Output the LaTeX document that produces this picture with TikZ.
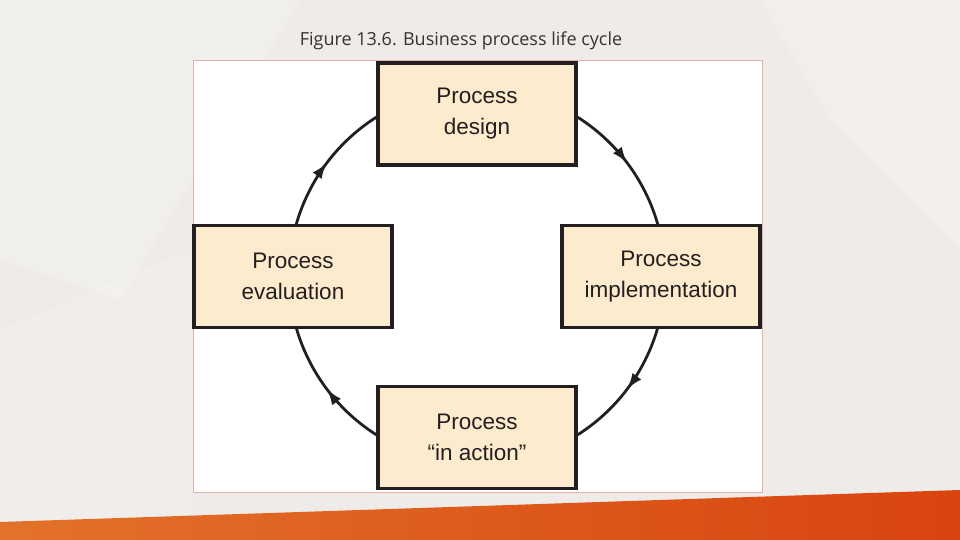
\documentclass[tikz,border=0pt]{standalone}
\usepackage{fontspec}
\setmainfont{Liberation Sans}
\newfontfamily\titlefont{Open Sans}
\usetikzlibrary{decorations.markings,arrows.meta,shadows}
\definecolor{bg}{HTML}{EEEBE8}
\definecolor{boxfill}{HTML}{FDEBCD}
\definecolor{boxline}{HTML}{231F20}
\definecolor{orA}{HTML}{E2722A}
\definecolor{orB}{HTML}{D9440F}
\begin{document}
\begin{tikzpicture}[x=1pt,y=-1pt,
  box/.style={draw=boxline,line width=3.2pt,fill=boxfill,minimum width=198pt,minimum height=102pt,
    align=center,font=\fontsize{22.5}{31}\selectfont,text=boxline,
    drop shadow={shadow xshift=1.5pt,shadow yshift=-1.5pt,opacity=0.35}},
  cyc/.style={line width=2.8pt,draw=boxline,postaction={decorate},
    decoration={markings,mark=at position 0.5 with {\arrow{Latex[length=16pt,width=11pt]}}}}]
\useasboundingbox (0,0) rectangle (960,540);
\fill[bg] (0,0) rectangle (960,540);
\fill[white,opacity=0.2] (0,0) -- (300,0) -- (120,300) -- (0,260) -- cycle;
\fill[white,opacity=0.18] (760,0) -- (960,0) -- (960,250) -- (830,120) -- cycle;
\fill[white,opacity=0.15] (0,330) -- (190,250) -- (190,520) -- (0,525) -- cycle;
\shade[left color=orA,right color=orB] (0,522) -- (960,490) -- (960,540) -- (0,540) -- cycle;
\node[font=\titlefont\fontsize{18}{21}\selectfont,text=black!80] (title) at (461,41) {Figure 13.6. Business process life cycle};
\draw[fill=white,draw={rgb,255:red,232;green,176;blue,168},line width=0.6pt] (193,60) rectangle (762,492);
\coordinate (c) at (477,276);
\draw[cyc] ([shift={(16:188)}]c) arc[start angle=16,end angle=58,radius=188];
\draw[cyc] ([shift={(-58:188)}]c) arc[start angle=-58,end angle=-16,radius=188];
\draw[cyc] ([shift={(-164:188)}]c) arc[start angle=-164,end angle=-122,radius=188];
\draw[cyc] ([shift={(122:188)}]c) arc[start angle=122,end angle=164,radius=188];
\node[box] (design) at (477,114) {Process\\design};
\node[box] (impl) at (661,276.5) {Process\\implementation};
\node[box] (action) at (477,437.5) {Process\\“in action”};
\node[box] (eval) at (293,276.5) {Process\\evaluation};
\end{tikzpicture}
\end{document}
